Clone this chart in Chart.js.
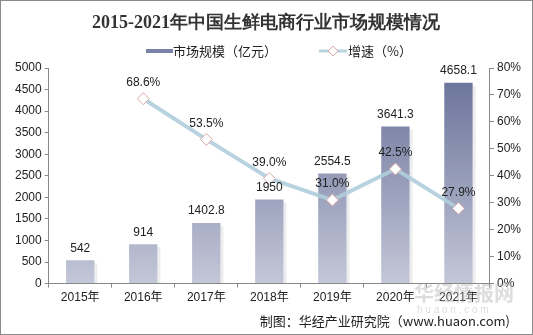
<!DOCTYPE html>
<html>
<head>
<meta charset="utf-8">
<script src="https://cdn.jsdelivr.net/npm/chart.js@4"></script>
<style>
  html, body { margin: 0; padding: 0; background: #fff; }
  #wrap { width: 533px; height: 335px; position: relative; box-sizing: border-box; border: 1px solid #8a8a8a; }
</style>
</head>
<body>
<div id="wrap"><canvas id="chart" width="531" height="333"></canvas></div>
<script>
const years = ['2015年', '2016年', '2017年', '2018年', '2019年', '2020年', '2021年'];
const marketSize = [542, 914, 1402.8, 1950, 2554.5, 3641.3, 4658.1];
const growth = [null, 68.6, 53.5, 39.0, 31.0, 42.5, 27.9];
const leftTicks = [0, 500, 1000, 1500, 2000, 2500, 3000, 3500, 4000, 4500, 5000];
const rightTicks = [0, 10, 20, 30, 40, 50, 60, 70, 80];

const labelFont = '12px "Liberation Sans", Arial, sans-serif';

function barGradient(ctx) {
    const area = ctx.chart.chartArea;
    if (!area) return '#7a82a6';
    const g = ctx.chart.ctx.createLinearGradient(0, area.top, 0, area.bottom);
    g.addColorStop(0, '#666f97');
    g.addColorStop(1, '#c3c7d8');
    return g;
}

// header, legend, footer and value labels
const decor = {
    id: 'decor',
    beforeDatasetsDraw(chart) {
        const c = chart.ctx;
        const meta = chart.getDatasetMeta(0);
        c.save();
        c.fillStyle = 'rgba(0,0,0,0.07)';
        meta.data.forEach(b => {
            c.fillRect(b.x + b.width / 2, b.y + 3, 3, b.base - b.y - 3);
        });
        c.restore();
    },
    afterDraw(chart) {
        const c = chart.ctx;
        c.save();
        c.fillStyle = '#333';
        c.font = 'bold 18px "Liberation Serif", "DejaVu Serif", serif';
        c.textAlign = 'center';
        c.textBaseline = 'middle';
        c.fillText('2015-2021年中国生鲜电商行业市场规模情况', 265, 22);

        // legend
        c.font = '13px "Noto Sans CJK SC", sans-serif';
        c.textAlign = 'left';
        c.fillStyle = '#7a82a6';
        c.fillRect(145, 48, 27, 4);
        c.fillStyle = '#222';
        c.fillText('市场规模（亿元）', 172, 50);
        c.strokeStyle = '#b8d2de';
        c.lineWidth = 3;
        c.beginPath(); c.moveTo(318, 50); c.lineTo(346, 50); c.stroke();
        c.fillStyle = '#fff';
        c.strokeStyle = '#d9a7a7';
        c.lineWidth = 1;
        c.beginPath();
        c.moveTo(332, 45); c.lineTo(337, 50); c.lineTo(332, 55); c.lineTo(327, 50); c.closePath();
        c.fill(); c.stroke();
        c.fillStyle = '#222';
        c.fillText('增速（%）', 347, 50);

        // watermark
        c.font = 'bold 20px "Noto Sans CJK SC", sans-serif';
        c.fillStyle = 'rgba(180,180,180,0.45)';
        c.fillText('华经情报网', 413, 292);
        c.font = '10px "Liberation Sans", sans-serif';
        c.fillText('h u a o n . c o m', 416, 309);

        // footer
        c.font = '13px "Noto Sans CJK SC", sans-serif';
        c.fillStyle = '#222';
        c.textAlign = 'right';
        c.fillText('制图：华经产业研究院（www.huaon.com)', 509, 320);

        // value labels
        c.font = labelFont;
        c.textAlign = 'center';
        c.textBaseline = 'bottom';
        c.fillStyle = '#222';
        chart.getDatasetMeta(0).data.forEach((b, i) => {
            c.fillText(String(marketSize[i]), b.x, b.y - 6);
        });
        chart.getDatasetMeta(1).data.forEach((p, i) => {
            if (growth[i] == null) return;
            c.fillText(growth[i].toFixed(1) + '%', p.x, p.y - 10);
        });
        c.restore();
    }
};

new Chart(document.getElementById('chart'), {
    type: 'bar',
    data: {
        labels: years,
        datasets: [{
            type: 'bar',
            label: '市场规模（亿元）',
            data: marketSize,
            backgroundColor: barGradient,
            categoryPercentage: 1,
            barPercentage: 0.45,
            yAxisID: 'y',
            order: 2
        }, {
            type: 'line',
            label: '增速（%）',
            data: growth,
            borderColor: 'rgba(176,206,220,0.9)',
            borderWidth: 4,
            pointStyle: 'rectRot',
            pointRadius: 6,
            pointBackgroundColor: '#fff',
            pointBorderColor: '#d9a7a7',
            pointBorderWidth: 1,
            spanGaps: false,
            yAxisID: 'y1',
            order: 1
        }]
    },
    options: {
        responsive: false,
        animation: false,
        layout: { padding: { top: 67, left: 11, right: 8, bottom: 26 } },
        plugins: {
            legend: { display: false },
            title: { display: false },
            tooltip: { enabled: false }
        },
        scales: {
            x: {
                grid: { display: true, drawOnChartArea: false, offset: true, tickLength: 4, color: '#888' },
                border: { color: '#888' },
                ticks: { color: '#222', font: { size: 12, family: '"Liberation Sans", "Noto Sans CJK SC", sans-serif' }, padding: 3 }
            },
            y: {
                min: 0, max: 5000,
                afterBuildTicks: axis => { axis.ticks = leftTicks.map(v => ({ value: v })); },
                grid: { drawOnChartArea: false, tickLength: 4, color: '#888' },
                border: { color: '#888' },
                ticks: { color: '#222', font: { size: 12, family: '"Liberation Sans", sans-serif' }, padding: 3, callback: v => String(v) }
            },
            y1: {
                position: 'right',
                min: 0, max: 80,
                afterBuildTicks: axis => { axis.ticks = rightTicks.map(v => ({ value: v })); },
                grid: { drawOnChartArea: false, tickLength: 4, color: '#888' },
                border: { color: '#888' },
                ticks: { color: '#222', font: { size: 12, family: '"Liberation Sans", sans-serif' }, padding: 3, callback: v => v + '%' }
            }
        }
    },
    plugins: [decor]
});
</script>
</body>
</html>
